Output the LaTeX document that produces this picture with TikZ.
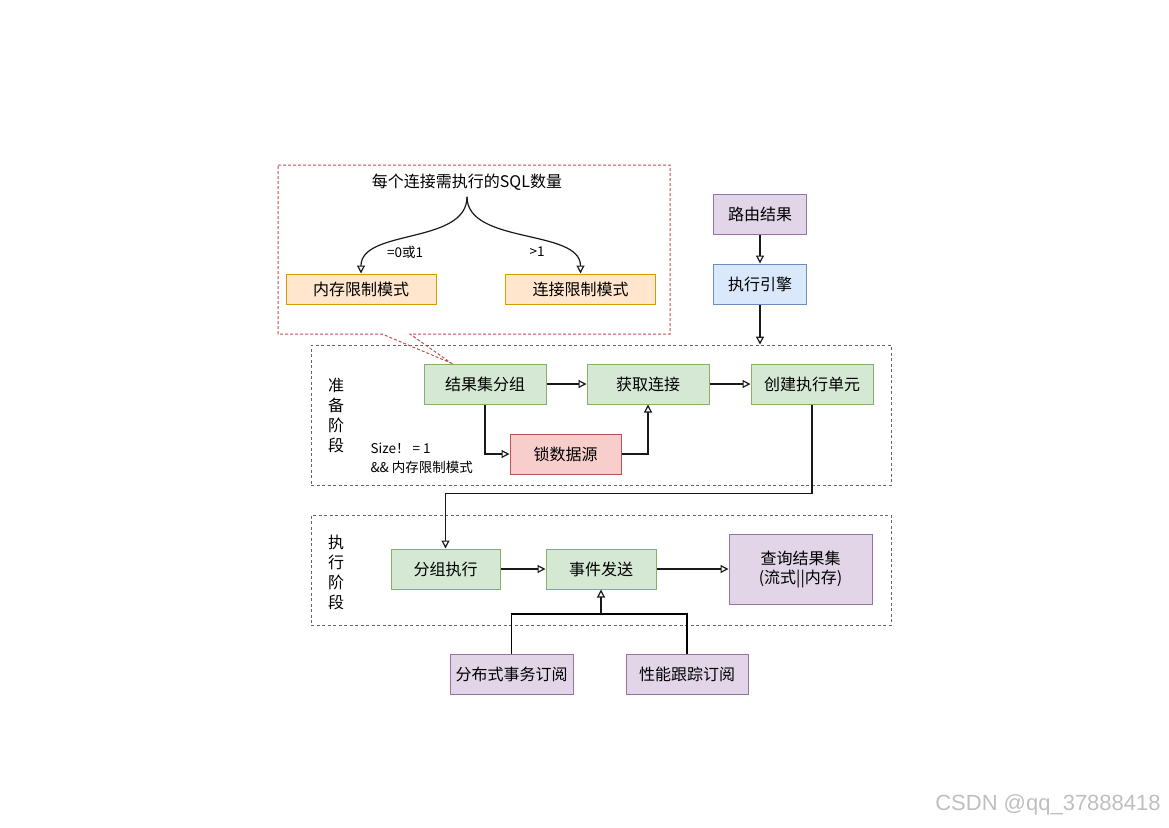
\documentclass[tikz,border=0pt]{standalone}
\usepackage{fontspec}
\setmainfont{Noto Sans CJK SC}
\newfontfamily\markfont{Liberation Sans}
\usetikzlibrary{arrows.meta}
\usetikzlibrary{positioning}

\begin{document}
\begin{tikzpicture}[x=1pt, y=-1pt,
    box/.style={draw, line width=1pt, minimum height=40pt, inner sep=2pt, font=\fontsize{16}{19}\selectfont},
    flow/.style={draw=black!90, line width=1.2pt, -{Triangle[open, length=8pt, width=8pt]}},
    stage/.style={draw=black!60, line width=0.9pt, dash pattern=on 3pt off 2.5pt},
    tag/.style={font=\fontsize{13.5}{19}\selectfont}]
  \definecolor{Green}{HTML}{82B366}
  \definecolor{GreenFill}{HTML}{D5E8D4}
  \definecolor{Orange}{HTML}{D79B00}
  \definecolor{OrangeFill}{HTML}{FFE6CC}
  \definecolor{Red}{HTML}{B85450}
  \definecolor{RedFill}{HTML}{F8CECC}
  \definecolor{Purple}{HTML}{9673A6}
  \definecolor{PurpleFill}{HTML}{E1D5E7}
  \definecolor{Blue}{HTML}{6C8EBF}
  \definecolor{BlueFill}{HTML}{DAE8FC}
  \definecolor{Callout}{HTML}{C0504D}
  \tikzset{
    greenbox/.style={box, draw=Green, fill=GreenFill, minimum width=122pt},
    orangebox/.style={box, draw=Orange, fill=OrangeFill, minimum width=150pt, minimum height=30pt},
    redbox/.style={box, draw=Red, fill=RedFill, minimum width=111pt},
    purplebox/.style={box, draw=Purple, fill=PurpleFill, minimum width=122pt},
    bluebox/.style={box, draw=Blue, fill=BlueFill, minimum width=93pt}}
  \useasboundingbox (0,0) rectangle (1169,827);

  \draw[Callout, line width=1pt, dash pattern=on 3pt off 2pt]
    (278,165) -- (670,165) -- (670,334) -- (410,334) -- (451,363) -- (382,334) -- (278,334) -- cycle;
  \node[font=\fontsize{16}{19}\selectfont] (sqlcount) at (467,182) {每个连接需执行的SQL数量};
  \node[orangebox] (memmode) at (361,289) {内存限制模式};
  \node[orangebox] (connmode) at (580.5,289) {连接限制模式};
  \draw[flow] ([yshift=-3pt]sqlcount.south) .. controls +(0,48) and +(0,-45) .. (memmode.north);
  \draw[flow] ([yshift=-3pt]sqlcount.south) .. controls +(0,48) and +(0,-45) .. (connmode.north);
  \node[tag] (low) at (405,252) {=0或1};
  \node[tag] (high) at (537,252) {>1};

  \node[purplebox, minimum width=93pt] (route) at (760,214) {路由结果};
  \node[bluebox] (engine) at (760,284) {执行引擎};

  \node[stage, minimum width=580pt, minimum height=140pt] (prep) at (601,415) {};
  \node[font=\fontsize{16}{20}\selectfont, align=center] (preplabel) at (336,416) {准\\备\\阶\\段};
  \node[greenbox] (group) at (485,384) {结果集分组};
  \node[greenbox] (getconn) at (648,384) {获取连接};
  \node[greenbox] (createunit) at (812,384) {创建执行单元};
  \node[redbox] (lockds) at (565.5,454) {锁数据源};
  \node[tag, anchor=west, align=left] (sizecond) at (367,458) {Size！ = 1\\\&\& 内存限制模式};

  \node[stage, minimum width=580pt, minimum height=110pt] (exec) at (601,570) {};
  \node[font=\fontsize{16}{20}\selectfont, align=center] (execlabel) at (336,572) {执\\行\\阶\\段};
  \node[greenbox, minimum width=109pt] (groupexec) at (445.5,569) {分组执行};
  \node[greenbox, minimum width=110pt] (eventsend) at (601,569) {事件发送};
  \node[purplebox, minimum width=143pt, minimum height=70pt, align=center] (resultset) at (800.5,569) {查询结果集\\(流式||内存)};
  \node[purplebox, minimum width=123pt] (txsub) at (511.5,674) {分布式事务订阅};
  \node[purplebox] (perfsub) at (687,674) {性能跟踪订阅};
  \coordinate (join) at (601,614);

  \draw[flow] (route) -- (engine);
  \draw[flow] (engine.south) -- (engine.south |- prep.north);
  \draw[flow] (group) -- (getconn);
  \draw[flow] (getconn) -- (createunit);
  \draw[flow] (group.south) |- (lockds.west);
  \draw[flow] (lockds.east) -| (getconn.south);
  \draw[flow] (createunit.south) -- ++(0,89) -| (groupexec.north);
  \draw[flow] (groupexec) -- (eventsend);
  \draw[flow] (eventsend) -- (resultset);
  \draw[line width=1.2pt] (txsub.north) |- (join);
  \draw[line width=1.2pt] (perfsub.north) |- (join);
  \draw[flow] (join) -- (eventsend.south);

  \node[font=\markfont\fontsize{22}{25}\selectfont, text=black!25] (mark) at (1048,805) {CSDN @qq\_37888418};
\end{tikzpicture}
\end{document}
